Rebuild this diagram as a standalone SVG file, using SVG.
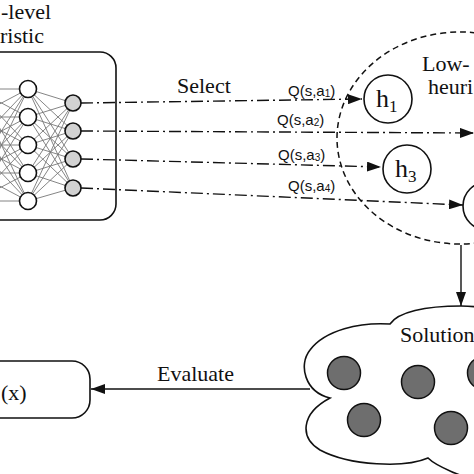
<svg xmlns="http://www.w3.org/2000/svg" width="474" height="474" viewBox="0 0 474 474">
<defs>
<style>
.serif{font-family:"Liberation Serif","Times New Roman",serif;fill:#111;}
.sans{font-family:"Liberation Sans",Arial,sans-serif;fill:#111;font-size:15px;}
.box{fill:#fff;stroke:#111;stroke-width:1.6;}
.dd{fill:none;stroke:#111;stroke-width:1.4;stroke-dasharray:12,4,2,4;}
.solid{fill:none;stroke:#111;stroke-width:1.4;}
.net{fill:none;stroke:#777;stroke-width:0.9;}
.hid{fill:#fff;stroke:#111;stroke-width:1.6;}
.out{fill:#d2d2d2;stroke:#111;stroke-width:1.6;}
.dot{fill:#6e6e6e;stroke:#111;stroke-width:1.5;}
</style>
<marker id="ah" markerWidth="14" markerHeight="10" refX="14" refY="5" orient="auto" markerUnits="userSpaceOnUse">
<path d="M0,0 L14,5 L0,10 Z" fill="#111"/>
</marker>
</defs>
<rect width="474" height="474" fill="#fff"/>

<g id="high-level-heuristic">
<text class="serif" x="1" y="19" font-size="22">-level</text>
<text class="serif" x="0" y="43" font-size="22">ristic</text>
<rect class="box" x="-20" y="52" width="136" height="168" rx="16"/>
<path class="net" d="M-25 89L28 89M-25 89L28 117M-25 89L28 145M-25 89L28 173M-25 89L28 201
M-25 117L28 89M-25 117L28 117M-25 117L28 145M-25 117L28 173M-25 117L28 201
M-25 145L28 89M-25 145L28 117M-25 145L28 145M-25 145L28 173M-25 145L28 201
M-25 173L28 89M-25 173L28 117M-25 173L28 145M-25 173L28 173M-25 173L28 201
M-25 201L28 89M-25 201L28 117M-25 201L28 145M-25 201L28 173M-25 201L28 201
M28 89L73 103M28 89L73 131M28 89L73 159M28 89L73 188
M28 117L73 103M28 117L73 131M28 117L73 159M28 117L73 188
M28 145L73 103M28 145L73 131M28 145L73 159M28 145L73 188
M28 173L73 103M28 173L73 131M28 173L73 159M28 173L73 188
M28 201L73 103M28 201L73 131M28 201L73 159M28 201L73 188"/>
<circle class="hid" cx="28" cy="89" r="8.5"/>
<circle class="hid" cx="28" cy="117" r="8.5"/>
<circle class="hid" cx="28" cy="145" r="8.5"/>
<circle class="hid" cx="28" cy="173" r="8.5"/>
<circle class="hid" cx="28" cy="201" r="8.5"/>
<circle class="out" cx="73" cy="103" r="8"/>
<circle class="out" cx="73" cy="131" r="8"/>
<circle class="out" cx="73" cy="159" r="8"/>
<circle class="out" cx="73" cy="188" r="8"/>
</g>

<g id="low-level-heuristics">
<ellipse cx="460" cy="138" rx="123" ry="106" fill="none" stroke="#111" stroke-width="1.5" stroke-dasharray="6,4"/>
<text class="serif" x="422" y="71" font-size="22">Low-</text>
<text class="serif" x="428" y="94" font-size="22">heuri</text>
</g>

<g id="h1">
<circle class="hid" cx="388" cy="99" r="24"/>
<text class="serif" x="376" y="107" font-size="26">h<tspan font-size="17" dy="5">1</tspan></text>
</g>
<g id="h3">
<circle class="hid" cx="407" cy="169" r="24"/>
<text class="serif" x="395" y="177" font-size="26">h<tspan font-size="17" dy="5">3</tspan></text>
</g>
<g id="h4">
<circle class="hid" cx="487" cy="206" r="24"/>
</g>

<g id="solutions">
<path class="box" d="M390,324 C398,312 425,306 461,306 C478,306 492,308 500,316 L500,490 C480,482 440,470 428,458 C405,468 350,466 320,450 C300,438 300,414 330,398 C305,392 298,365 310,350 C325,330 360,322 390,324 Z"/>
<text class="serif" x="400" y="342" font-size="22">Solution</text>
<circle class="dot" cx="344" cy="373" r="16.5"/>
<circle class="dot" cx="418" cy="382" r="16.5"/>
<circle class="dot" cx="484" cy="373" r="16.5"/>
<circle class="dot" cx="364" cy="420" r="16.5"/>
<circle class="dot" cx="451" cy="428" r="16.5"/>
</g>

<g id="fx">
<rect class="box" x="-30" y="361" width="120" height="57" rx="18"/>
<text class="serif" x="1" y="400" font-size="22">(x)</text>
</g>

<g id="connectors">
<path class="dd" d="M81,103 L362,99" marker-end="url(#ah)"/>
<path class="dd" d="M81,131 L474,133" marker-end="url(#ah)"/>
<path class="dd" d="M81,159 L381,167" marker-end="url(#ah)"/>
<path class="dd" d="M81,188 L463,205" marker-end="url(#ah)"/>
<path class="solid" d="M461,245 L461,306" marker-end="url(#ah)"/>
<path class="solid" d="M310,389 L91,389" marker-end="url(#ah)"/>
<text class="serif" x="177" y="93" font-size="22">Select</text>
<text class="sans" x="288" y="96">Q(s,a<tspan font-size="10" dy="1">1</tspan><tspan dy="-1">)</tspan></text>
<text class="sans" x="277" y="125">Q(s,a<tspan font-size="10" dy="1">2</tspan><tspan dy="-1">)</tspan></text>
<text class="sans" x="278" y="160">Q(s,a<tspan font-size="10" dy="1">3</tspan><tspan dy="-1">)</tspan></text>
<text class="sans" x="288" y="191">Q(s,a<tspan font-size="10" dy="1">4</tspan><tspan dy="-1">)</tspan></text>
<text class="serif" x="157" y="381" font-size="22">Evaluate</text>
</g>
</svg>
